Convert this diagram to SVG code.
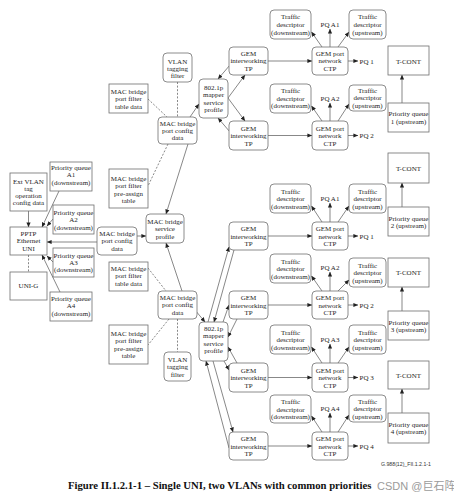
<svg xmlns="http://www.w3.org/2000/svg" width="454" height="502" viewBox="0 0 454 502">
<style>
.b{fill:#fff;stroke:#6e6e6e;stroke-width:0.8}
.t{font-family:"Liberation Serif","Times New Roman",serif;font-size:7px;fill:#1e1e1e;text-anchor:middle}
.l{font-family:"Liberation Serif","Times New Roman",serif;font-size:7px;fill:#1e1e1e}
.c{stroke:#555;stroke-width:0.7;fill:none}
.a{marker-end:url(#ah)}
.d{stroke-dasharray:2,1.6}
</style>
<defs>
<marker id="ah" markerWidth="6" markerHeight="6" refX="4.6" refY="3" orient="auto" markerUnits="userSpaceOnUse"><path d="M0,0.9 L4.8,3 L0,5.1z" fill="#222"/></marker>
</defs>
<rect width="454" height="502" fill="#fff"/>

<g id="connectors">
<path class="c d" d="M177.5,82 L177.5,117"/>
<path class="c d" d="M148,99 L167,117"/>
<path class="c a" d="M190,117 L199,104"/>
<path class="c a" d="M188,144 L166,214"/>
<path class="c d" d="M168,144 L148,186"/>
<path class="c a" d="M230,65 L218,79"/>
<path class="c a" d="M228,98 L245,75"/>
<path class="c a" d="M228,98 L245,121"/>
<path class="c a" d="M230,132 L218,118"/>
<path class="c a" d="M137,236 L146,236"/>
<path class="c a" d="M97,242 L47,242"/>
<path class="c a" d="M28.5,211 L28.5,227"/>
<path class="c d" d="M28.5,255 L28.5,272"/>
<path class="c a" d="M59,191 L42,227"/>
<path class="c a" d="M53,219 L47,226"/>
<path class="c a" d="M53,262 L47,256"/>
<path class="c a" d="M60,292 L42,255"/>
<path class="c a" d="M182,291 L166,243"/>
<path class="c d" d="M148,268 L166,291"/>
<path class="c d" d="M169,319 L148,345"/>
<path class="c d" d="M177.5,319 L177.5,352"/>
<path class="c a" d="M195,310 L205,322"/>
<path class="c a" d="M208,322 L229,247"/>
<path class="c a" d="M234,250 L214,322"/>
<path class="c a" d="M223,322 L229,305"/>
<path class="c a" d="M237,319 L228,337"/>
<path class="c a" d="M237,363 L228,347"/>
<path class="c a" d="M224,361 L229,370"/>
<path class="c a" d="M213,361 L233,432"/>
<path class="c a" d="M229,448 L206,361"/>
<path class="c a" d="M268,61 L312,61"/>
<path class="c a" d="M348,61 L358,61"/>
<path class="c a" d="M322,47 L311.5,32"/>
<path class="c a" d="M330,47 L330,29"/>
<path class="c a" d="M338,47 L349,32"/>
<path class="c a" d="M268,135.5 L312,135.5"/>
<path class="c a" d="M348,135.5 L358,135.5"/>
<path class="c a" d="M322,121 L311.5,106"/>
<path class="c a" d="M330,121 L330,103"/>
<path class="c a" d="M338,121 L349,104"/>
<path class="c a" d="M268,236 L312,236"/>
<path class="c a" d="M348,236 L358,236"/>
<path class="c a" d="M322,222 L311.5,206"/>
<path class="c a" d="M330,222 L330,203"/>
<path class="c a" d="M338,222 L349,206"/>
<path class="c a" d="M268,305 L312,305"/>
<path class="c a" d="M348,305 L358,305"/>
<path class="c a" d="M322,291 L311.5,276"/>
<path class="c a" d="M330,291 L330,272"/>
<path class="c a" d="M338,291 L349,280"/>
<path class="c a" d="M268,377.5 L312,377.5"/>
<path class="c a" d="M348,377.5 L358,377.5"/>
<path class="c a" d="M322,363 L311.5,347"/>
<path class="c a" d="M330,363 L330,344"/>
<path class="c a" d="M338,363 L349,347"/>
<path class="c a" d="M268,446 L312,446"/>
<path class="c a" d="M348,446 L358,446"/>
<path class="c a" d="M322,432 L311.5,416"/>
<path class="c a" d="M330,432 L330,413"/>
<path class="c a" d="M338,432 L349,415"/>
<path class="c a" d="M402,103 L402,75"/>
<path class="c a" d="M402,207 L402,183"/>
<path class="c a" d="M402,311 L402,287"/>
<path class="c a" d="M402,413 L402,389"/>
</g>

<g id="vtf1"><rect class="b" x="163" y="53" width="29" height="29" rx="4"/><text class="t"><tspan x="177.5" y="63.5">VLAN</tspan><tspan x="177.5" y="70.5">tagging</tspan><tspan x="177.5" y="77.5">filter</tspan></text></g>
<g id="mbpftd1"><rect class="b" x="109" y="84" width="39" height="29"/><text class="t"><tspan x="128.5" y="93.5">MAC bridge</tspan><tspan x="128.5" y="101">port filter</tspan><tspan x="128.5" y="108.5">table data</tspan></text></g>
<g id="mbpcd1"><rect class="b" x="158" y="117" width="39" height="27" rx="4"/><text class="t"><tspan x="177.5" y="125.5">MAC bridge</tspan><tspan x="177.5" y="132.5">port config</tspan><tspan x="177.5" y="139.5">data</tspan></text></g>
<g id="mapper1"><rect class="b" x="199" y="79" width="29" height="39" rx="4"/><text class="t"><tspan x="213.5" y="89.5">802.1p</tspan><tspan x="213.5" y="97">mapper</tspan><tspan x="213.5" y="104.5">service</tspan><tspan x="213.5" y="112">profile</tspan></text></g>
<g id="mbpfpat1"><rect class="b" x="109" y="169" width="39" height="39"/><text class="t"><tspan x="128.5" y="180.5">MAC bridge</tspan><tspan x="128.5" y="188">port filter</tspan><tspan x="128.5" y="195.5">pre-assign</tspan><tspan x="128.5" y="203">table</tspan></text></g>
<g id="mbsp"><rect class="b" x="146" y="214" width="38" height="29" rx="4"/><text class="t"><tspan x="165" y="223.5">MAC bridge</tspan><tspan x="165" y="231">service</tspan><tspan x="165" y="238.5">profile</tspan></text></g>
<g id="mbpcd0"><rect class="b" x="97" y="227" width="40" height="28" rx="4"/><text class="t"><tspan x="117" y="235.5">MAC bridge</tspan><tspan x="117" y="243">port config</tspan><tspan x="117" y="250.5">data</tspan></text></g>
<g id="pptp"><rect class="b" x="10" y="227" width="37" height="28"/><text class="t"><tspan x="28.5" y="235.5">PPTP</tspan><tspan x="28.5" y="243">Ethernet</tspan><tspan x="28.5" y="250.5">UNI</tspan></text></g>
<g id="extvlan"><rect class="b" x="10" y="173" width="37" height="38"/><text class="t"><tspan x="28.5" y="183.5">Ext VLAN</tspan><tspan x="28.5" y="191">tag</tspan><tspan x="28.5" y="198">operation</tspan><tspan x="28.5" y="205">config data</tspan></text></g>
<g id="unig"><rect class="b" x="10" y="272" width="37" height="28"/><text class="t" x="28.5" y="288">UNI-G</text></g>
<g id="pqa1"><rect class="b" x="50" y="162" width="42" height="29"/><text class="t"><tspan x="71" y="169.5">Priority queue</tspan><tspan x="71" y="177">A1</tspan><tspan x="71" y="184.5">(downstream)</tspan></text></g>
<g id="pqa2"><rect class="b" x="53" y="205" width="41" height="29"/><text class="t"><tspan x="73.5" y="214.5">Priority queue</tspan><tspan x="73.5" y="222">A2</tspan><tspan x="73.5" y="229.5">(downstream)</tspan></text></g>
<g id="pqa3"><rect class="b" x="53" y="248" width="41" height="29"/><text class="t"><tspan x="73.5" y="257.5">Priority queue</tspan><tspan x="73.5" y="264.5">A3</tspan><tspan x="73.5" y="271.5">(downstream)</tspan></text></g>
<g id="pqa4"><rect class="b" x="50" y="292" width="42" height="29"/><text class="t"><tspan x="71" y="300.5">Priority queue</tspan><tspan x="71" y="308">A4</tspan><tspan x="71" y="315.5">(downstream)</tspan></text></g>
<g id="mbpftd2"><rect class="b" x="109" y="262" width="39" height="29"/><text class="t"><tspan x="128.5" y="270.5">MAC bridge</tspan><tspan x="128.5" y="278">port filter</tspan><tspan x="128.5" y="285.5">table data</tspan></text></g>
<g id="mbpcd2"><rect class="b" x="158" y="291" width="39" height="28" rx="4"/><text class="t"><tspan x="177.5" y="299.5">MAC bridge</tspan><tspan x="177.5" y="307">port config</tspan><tspan x="177.5" y="314.5">data</tspan></text></g>
<g id="mbpfpat2"><rect class="b" x="109" y="325" width="39" height="39"/><text class="t"><tspan x="128.5" y="335.5">MAC bridge</tspan><tspan x="128.5" y="343">port filter</tspan><tspan x="128.5" y="350.5">pre-assign</tspan><tspan x="128.5" y="358">table</tspan></text></g>
<g id="vtf2"><rect class="b" x="164" y="352" width="27" height="29" rx="4"/><text class="t"><tspan x="177.5" y="361.5">VLAN</tspan><tspan x="177.5" y="369">tagging</tspan><tspan x="177.5" y="376.5">filter</tspan></text></g>
<g id="mapper2"><rect class="b" x="199" y="322" width="29" height="39" rx="4"/><text class="t"><tspan x="213.5" y="330.5">802.1p</tspan><tspan x="213.5" y="338">mapper</tspan><tspan x="213.5" y="345.5">service</tspan><tspan x="213.5" y="353">profile</tspan></text></g>

<g id="tdds11"><rect class="b" x="270" y="10" width="41" height="29" rx="4"/><text class="t"><tspan x="290.5" y="18.5">Traffic</tspan><tspan x="290.5" y="26.5">descriptor</tspan><tspan x="290.5" y="34.5">(downstream)</tspan></text></g>
<g id="pqa11"><text class="t" x="330" y="26.5">PQ A1</text></g>
<g id="tdus11"><rect class="b" x="349" y="10" width="37" height="29" rx="4"/><text class="t"><tspan x="367.5" y="18.5">Traffic</tspan><tspan x="367.5" y="26.5">descriptor</tspan><tspan x="367.5" y="34.5">(upstream)</tspan></text></g>
<g id="gemiw11"><rect class="b" x="229" y="47" width="39" height="28" rx="4"/><text class="t"><tspan x="248.5" y="55.5">GEM</tspan><tspan x="248.5" y="63">interworking</tspan><tspan x="248.5" y="70.5">TP</tspan></text></g>
<g id="ctp11"><rect class="b" x="312" y="47" width="36" height="28" rx="4"/><text class="t"><tspan x="330" y="55.5">GEM port</tspan><tspan x="330" y="63">network</tspan><tspan x="330" y="70.5">CTP</tspan></text></g>
<g id="pq11"><text class="l" x="359.5" y="63.5">PQ 1</text></g>
<g id="tcont1"><rect class="b" x="388" y="46" width="41" height="29"/><text class="t" x="408.5" y="63.5">T-CONT</text></g>
<g id="pqus1"><rect class="b" x="388" y="103" width="41" height="29"/><text class="t"><tspan x="408.5" y="116">Priority queue</tspan><tspan x="408.5" y="123.5">1 (upstream)</tspan></text></g>
<g id="tdds12"><rect class="b" x="270" y="84" width="41" height="29" rx="4"/><text class="t"><tspan x="290.5" y="93">Traffic</tspan><tspan x="290.5" y="100.5">descriptor</tspan><tspan x="290.5" y="108">(downstream)</tspan></text></g>
<g id="pqa12"><text class="t" x="330" y="100.5">PQ A2</text></g>
<g id="tdus12"><rect class="b" x="349" y="85" width="37" height="26" rx="4"/><text class="t"><tspan x="367.5" y="92.5">Traffic</tspan><tspan x="367.5" y="100">descriptor</tspan><tspan x="367.5" y="107.5">(upstream)</tspan></text></g>
<g id="gemiw12"><rect class="b" x="229" y="121" width="39" height="29" rx="4"/><text class="t"><tspan x="248.5" y="130.5">GEM</tspan><tspan x="248.5" y="138">interworking</tspan><tspan x="248.5" y="145.5">TP</tspan></text></g>
<g id="ctp12"><rect class="b" x="312" y="121" width="36" height="29" rx="4"/><text class="t"><tspan x="330" y="130.5">GEM port</tspan><tspan x="330" y="138">network</tspan><tspan x="330" y="145.5">CTP</tspan></text></g>
<g id="pq12"><text class="l" x="359.5" y="138">PQ 2</text></g>

<g id="tcont2"><rect class="b" x="388" y="153" width="41" height="30"/><text class="t" x="408.5" y="170.5">T-CONT</text></g>
<g id="pqus2"><rect class="b" x="388" y="207" width="41" height="29"/><text class="t"><tspan x="408.5" y="220.5">Priority queue</tspan><tspan x="408.5" y="227.5">2 (upstream)</tspan></text></g>
<g id="tdds21"><rect class="b" x="270" y="184" width="41" height="29" rx="4"/><text class="t"><tspan x="290.5" y="193.5">Traffic</tspan><tspan x="290.5" y="201">descriptor</tspan><tspan x="290.5" y="208.5">(downstream)</tspan></text></g>
<g id="pqa21"><text class="t" x="330" y="200.5">PQ A1</text></g>
<g id="tdus21"><rect class="b" x="349" y="184" width="37" height="29" rx="4"/><text class="t"><tspan x="367.5" y="193.5">Traffic</tspan><tspan x="367.5" y="201">descriptor</tspan><tspan x="367.5" y="208.5">(upstream)</tspan></text></g>
<g id="gemiw21"><rect class="b" x="229" y="222" width="39" height="28" rx="4"/><text class="t"><tspan x="248.5" y="231">GEM</tspan><tspan x="248.5" y="238.5">interworking</tspan><tspan x="248.5" y="246">TP</tspan></text></g>
<g id="ctp21"><rect class="b" x="312" y="222" width="36" height="28" rx="4"/><text class="t"><tspan x="330" y="231">GEM port</tspan><tspan x="330" y="238.5">network</tspan><tspan x="330" y="246">CTP</tspan></text></g>
<g id="pq21"><text class="l" x="359.5" y="238.5">PQ 1</text></g>
<g id="tdds22"><rect class="b" x="270" y="254" width="41" height="29" rx="4"/><text class="t"><tspan x="290.5" y="263.5">Traffic</tspan><tspan x="290.5" y="271">descriptor</tspan><tspan x="290.5" y="278.5">(downstream)</tspan></text></g>
<g id="pqa22"><text class="t" x="330" y="269.5">PQ A2</text></g>
<g id="tdus22"><rect class="b" x="349" y="258" width="37" height="29" rx="4"/><text class="t"><tspan x="367.5" y="267.5">Traffic</tspan><tspan x="367.5" y="275">descriptor</tspan><tspan x="367.5" y="282.5">(upstream)</tspan></text></g>
<g id="tcont3"><rect class="b" x="388" y="258" width="41" height="29"/><text class="t" x="408.5" y="275">T-CONT</text></g>
<g id="gemiw22"><rect class="b" x="229" y="291" width="39" height="28" rx="4"/><text class="t"><tspan x="248.5" y="300">GEM</tspan><tspan x="248.5" y="307.5">interworking</tspan><tspan x="248.5" y="315">TP</tspan></text></g>
<g id="ctp22"><rect class="b" x="312" y="291" width="36" height="28" rx="4"/><text class="t"><tspan x="330" y="300">GEM port</tspan><tspan x="330" y="307.5">network</tspan><tspan x="330" y="315">CTP</tspan></text></g>
<g id="pq22"><text class="l" x="359.5" y="307.5">PQ 2</text></g>
<g id="pqus3"><rect class="b" x="388" y="311" width="41" height="29"/><text class="t"><tspan x="408.5" y="324.5">Priority queue</tspan><tspan x="408.5" y="331.5">3 (upstream)</tspan></text></g>
<g id="tdds23"><rect class="b" x="270" y="325" width="41" height="29" rx="4"/><text class="t"><tspan x="290.5" y="334.5">Traffic</tspan><tspan x="290.5" y="342">descriptor</tspan><tspan x="290.5" y="349.5">(downstream)</tspan></text></g>
<g id="pqa23"><text class="t" x="330" y="341.5">PQ A3</text></g>
<g id="tdus23"><rect class="b" x="349" y="325" width="37" height="29" rx="4"/><text class="t"><tspan x="367.5" y="334.5">Traffic</tspan><tspan x="367.5" y="342">descriptor</tspan><tspan x="367.5" y="349.5">(upstream)</tspan></text></g>
<g id="gemiw23"><rect class="b" x="229" y="363" width="39" height="29" rx="4"/><text class="t"><tspan x="248.5" y="372.5">GEM</tspan><tspan x="248.5" y="380">interworking</tspan><tspan x="248.5" y="387.5">TP</tspan></text></g>
<g id="ctp23"><rect class="b" x="312" y="363" width="36" height="29" rx="4"/><text class="t"><tspan x="330" y="372.5">GEM port</tspan><tspan x="330" y="380">network</tspan><tspan x="330" y="387.5">CTP</tspan></text></g>
<g id="pq23"><text class="l" x="359.5" y="380">PQ 3</text></g>
<g id="tcont4"><rect class="b" x="388" y="361" width="41" height="28"/><text class="t" x="408.5" y="377.5">T-CONT</text></g>
<g id="tdds24"><rect class="b" x="270" y="395" width="41" height="28" rx="4"/><text class="t"><tspan x="290.5" y="404">Traffic</tspan><tspan x="290.5" y="411.5">descriptor</tspan><tspan x="290.5" y="419">(downstream)</tspan></text></g>
<g id="pqa24"><text class="t" x="330" y="410.5">PQ A4</text></g>
<g id="tdus24"><rect class="b" x="349" y="395" width="37" height="27" rx="4"/><text class="t"><tspan x="367.5" y="403.5">Traffic</tspan><tspan x="367.5" y="411">descriptor</tspan><tspan x="367.5" y="418.5">(upstream)</tspan></text></g>
<g id="pqus4"><rect class="b" x="388" y="413" width="41" height="30"/><text class="t"><tspan x="408.5" y="427">Priority queue</tspan><tspan x="408.5" y="434">4 (upstream)</tspan></text></g>
<g id="gemiw24"><rect class="b" x="229" y="432" width="39" height="28" rx="4"/><text class="t"><tspan x="248.5" y="441">GEM</tspan><tspan x="248.5" y="448.5">interworking</tspan><tspan x="248.5" y="456">TP</tspan></text></g>
<g id="ctp24"><rect class="b" x="312" y="432" width="36" height="28" rx="4"/><text class="t"><tspan x="330" y="441">GEM port</tspan><tspan x="330" y="448.5">network</tspan><tspan x="330" y="456">CTP</tspan></text></g>
<g id="pq24"><text class="l" x="359.5" y="448.5">PQ 4</text></g>

<text x="381" y="466" style="font-family:'Liberation Sans',Arial,sans-serif;font-size:5.2px;fill:#333">G.988(12)_FII.1.2.1-1</text>
<text x="68" y="489" style="font-family:'Liberation Serif','Times New Roman',serif;font-size:10.7px;font-weight:bold;fill:#111">Figure II.1.2.1-1 – Single UNI, two VLANs with common priorities</text>
<text x="377" y="490" style="font-family:'Liberation Sans','Noto Sans CJK SC',sans-serif;font-size:11px;fill:#8a8a8a;opacity:0.85">CSDN @巨石阵</text>
</svg>
